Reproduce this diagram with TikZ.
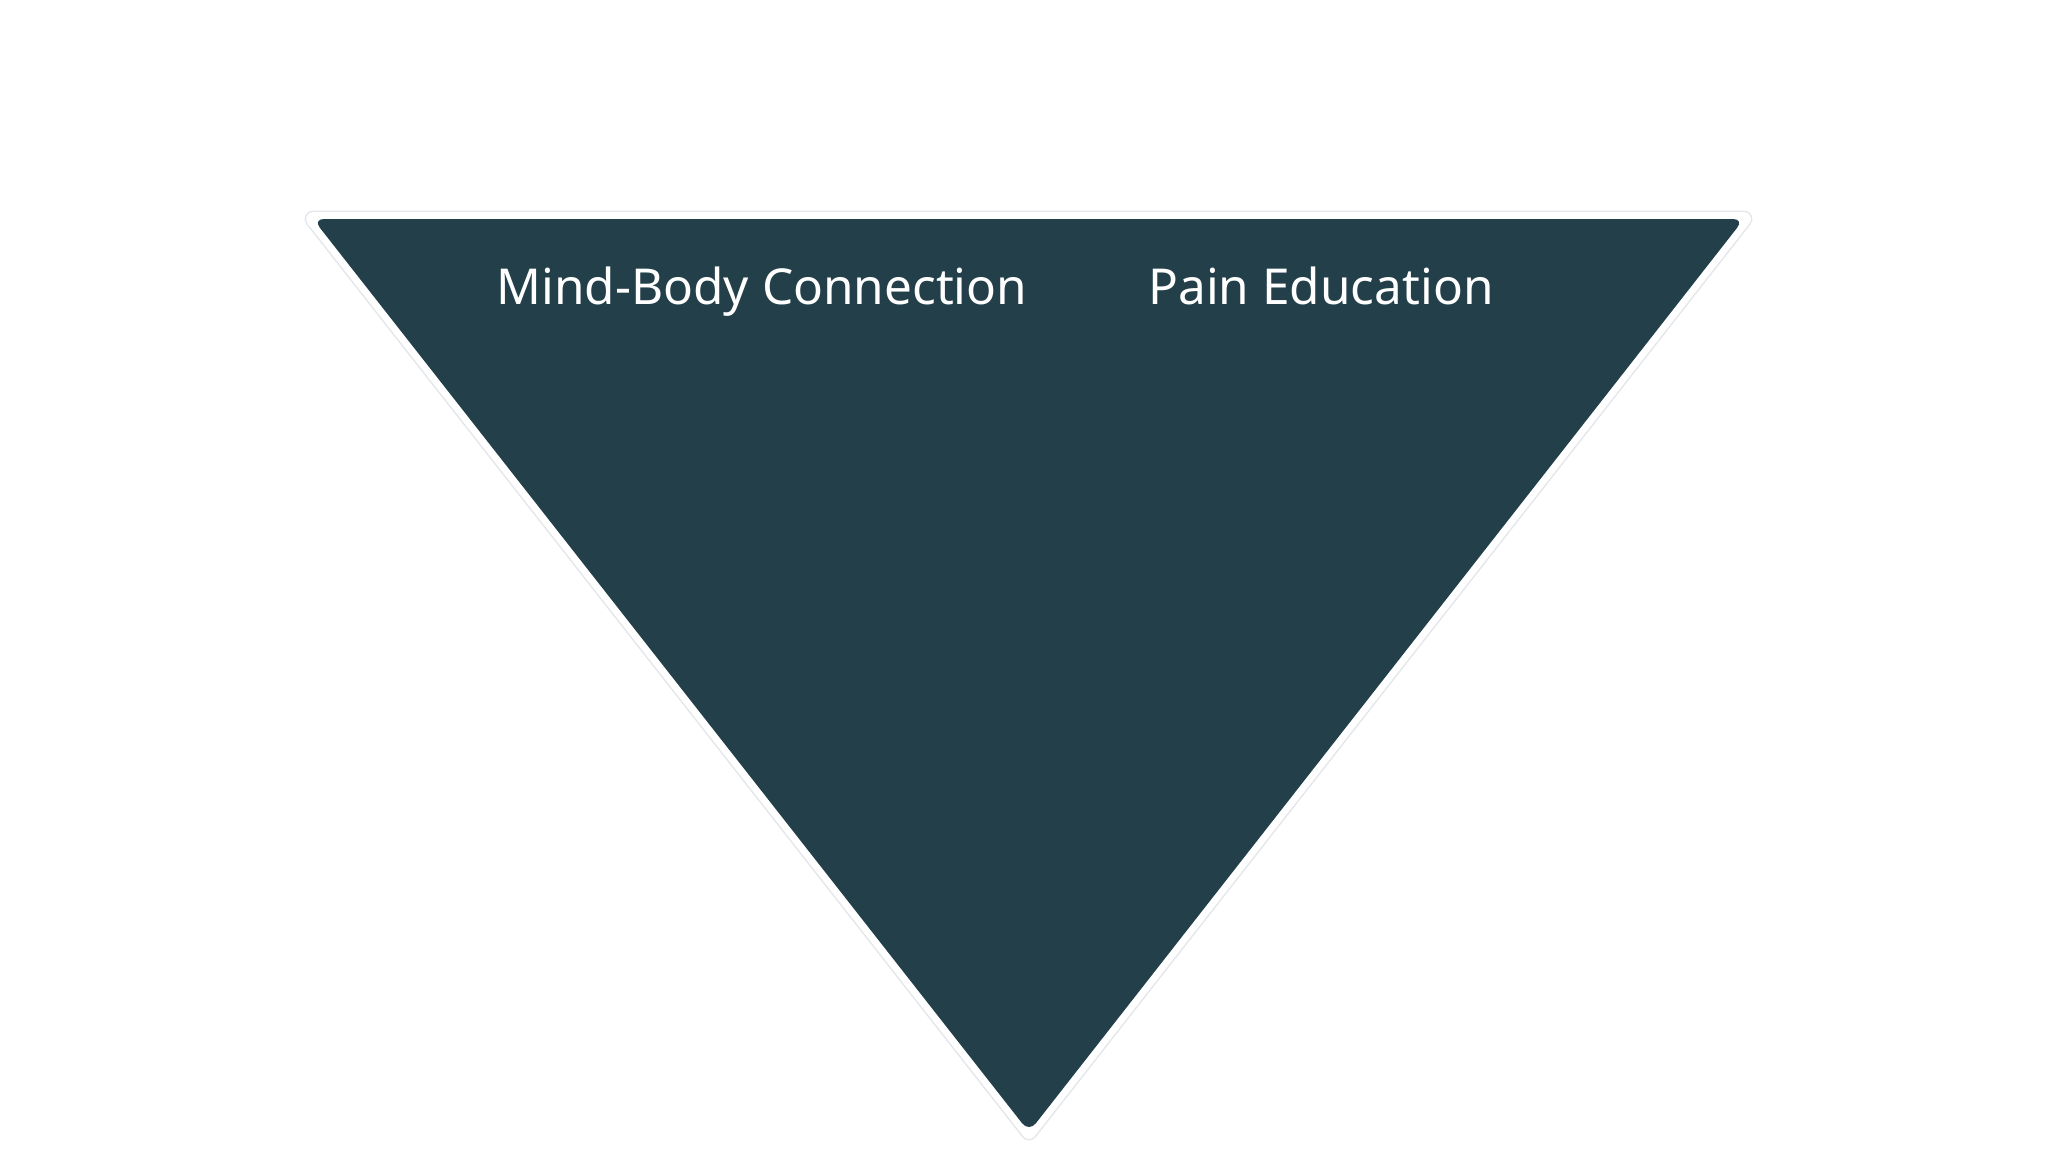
\documentclass[tikz,border=0pt]{standalone}
\usepackage{fontspec}
\setmainfont{Noto Sans}
\definecolor{teal}{HTML}{23404A}
\definecolor{rim}{HTML}{E3E6EA}
\begin{document}
\begin{tikzpicture}[x=1pt,y=-1pt,
  lbl/.style={text=white,font=\fontsize{49.5}{56}\selectfont,anchor=base,inner sep=0pt}]
\useasboundingbox (0,0) rectangle (2048,1152);
\coordinate (tl) at (313,219);
\coordinate (tr) at (1744,219);
\coordinate (bt) at (1029,1132);
\draw[rim,line width=17,line join=round] (tl) -- (tr) -- (bt) -- cycle;
\draw[white,line width=14,line join=round] (tl) -- (tr) -- (bt) -- cycle;
\fill[teal,rounded corners=11] (tl) -- (tr) -- (bt) -- cycle;
\node[lbl] (mb) at (762,304) {Mind-Body Connection};
\node[lbl] (pe) at (1321,304) {Pain Education};
\end{tikzpicture}
\end{document}
